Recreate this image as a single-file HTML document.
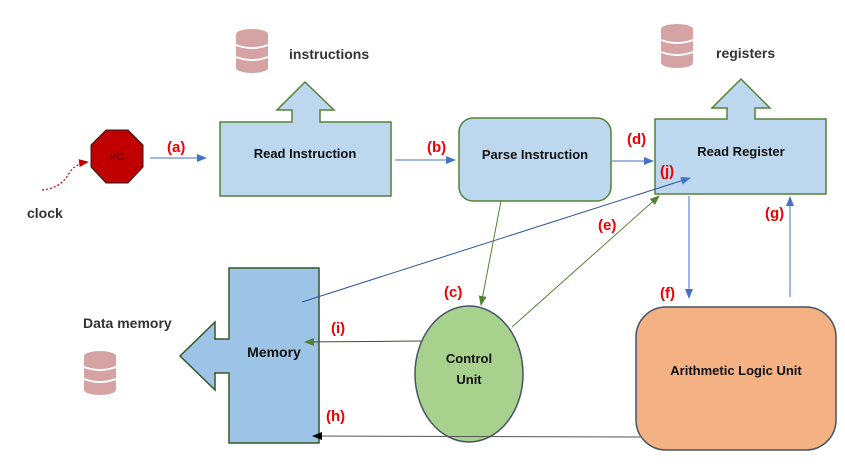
<!DOCTYPE html>
<html><head><meta charset="utf-8"><style>
html,body{margin:0;padding:0;background:#fff;}
svg{display:block;font-family:"Liberation Sans",sans-serif;}
.l{fill:#e00;font-weight:bold;font-size:15px;}
.t{font-weight:bold;font-size:13px;fill:#111;}
</style></head><body>
<svg width="845" height="470" viewBox="0 0 845 470">
<defs>
<marker id="ab" markerWidth="10" markerHeight="8" refX="9" refY="4" orient="auto" markerUnits="userSpaceOnUse"><path d="M0,0 L10,4 L0,8z" fill="#4472c4"/></marker>
<marker id="ag" markerWidth="10" markerHeight="8" refX="9" refY="4" orient="auto" markerUnits="userSpaceOnUse"><path d="M0,0 L10,4 L0,8z" fill="#548235"/></marker>
<marker id="ak" markerWidth="10" markerHeight="8" refX="9" refY="4" orient="auto" markerUnits="userSpaceOnUse"><path d="M0,0 L10,4 L0,8z" fill="#000"/></marker>
<marker id="ar" markerWidth="10" markerHeight="8" refX="9" refY="4" orient="auto" markerUnits="userSpaceOnUse"><path d="M0,0 L10,4 L0,8z" fill="#c00000"/></marker>
<g id="db"><ellipse cx="0" cy="5" rx="16" ry="5" fill="#d5a3a3"/><rect x="-16" y="5" width="32" height="34" fill="#d5a3a3"/><ellipse cx="0" cy="39" rx="16" ry="5" fill="#d5a3a3"/><path d="M-16,16 Q0,22 16,16 M-16,28 Q0,34 16,28" stroke="#fff" stroke-width="2" fill="none"/></g>
</defs>
<!-- db icons -->
<use href="#db" x="252" y="29"/>
<use href="#db" x="677" y="24"/>
<use href="#db" x="100" y="351"/>
<text x="289" y="59" class="t" style="font-size:14px;fill:#333">instructions</text>
<text x="716" y="58" class="t" style="font-size:14px;fill:#333">registers</text>
<text x="83" y="328" class="t" style="font-size:14px;fill:#333">Data memory</text>
<!-- clock -->
<path d="M42,190 C60,188 65,180 70,172 C74,166 80,163 88,162" stroke="#c00000" stroke-width="1.2" stroke-dasharray="2,2" fill="none" marker-end="url(#ar)"/>
<text x="27" y="218" class="t" style="font-size:14px;fill:#333">clock</text>
<!-- PC -->
<polygon points="106,130 128,130 143,145 143,167 128,183 106,183 91,167 91,145" fill="#c00000" stroke="#222" stroke-width="1"/>
<text x="117" y="160" text-anchor="middle" font-size="10" fill="#3a0000">PC</text>
<!-- Read Instruction -->
<path d="M220,122 L292,122 L292,110 L277,110 L305,82 L334,110 L320,110 L320,122 L391,122 L391,196 L220,196z" fill="#bdd7ee" stroke="#548235" stroke-width="1.5"/>
<text x="305" y="158" text-anchor="middle" class="t">Read Instruction</text>
<!-- Parse -->
<rect x="459" y="118" width="152" height="83" rx="14" fill="#bdd7ee" stroke="#548235" stroke-width="1.5"/>
<text x="535" y="159" text-anchor="middle" class="t">Parse Instruction</text>
<!-- Read Register -->
<path d="M655,119 L727,119 L727,108 L712,108 L741,79 L770,108 L755,108 L755,119 L826,119 L826,194 L655,194z" fill="#bdd7ee" stroke="#548235" stroke-width="1.5"/>
<text x="741" y="156" text-anchor="middle" class="t">Read Register</text>
<!-- Memory -->
<path d="M229,268 L319,268 L319,443 L229,443 L229,373 L215,373 L215,390 L180,356 L215,322 L215,339 L229,339z" fill="#9dc3e6" stroke="#385723" stroke-width="1.5"/>
<text x="274" y="357" text-anchor="middle" class="t" style="font-size:14px">Memory</text>
<!-- Control Unit -->
<ellipse cx="469" cy="374" rx="54" ry="68" fill="#a9d18e" stroke="#44546a" stroke-width="1.5"/>
<text x="469" y="363" text-anchor="middle" class="t">Control</text>
<text x="469" y="384" text-anchor="middle" class="t">Unit</text>
<!-- ALU -->
<rect x="636" y="307" width="200" height="143" rx="30" fill="#f4b183" stroke="#44546a" stroke-width="1.5"/>
<text x="736" y="375" text-anchor="middle" class="t">Arithmetic Logic Unit</text>
<!-- arrows -->
<line x1="150" y1="158" x2="206" y2="158" stroke="#4472c4" marker-end="url(#ab)"/>
<line x1="395" y1="160" x2="455" y2="160" stroke="#4472c4" marker-end="url(#ab)"/>
<line x1="612" y1="161" x2="653" y2="161" stroke="#4472c4" marker-end="url(#ab)"/>
<line x1="302" y1="302" x2="690" y2="178" stroke="#2f5597" marker-end="url(#ab)"/>
<line x1="512" y1="327" x2="659" y2="196" stroke="#548235" marker-end="url(#ag)"/>
<line x1="501" y1="201" x2="481" y2="305" stroke="#548235" marker-end="url(#ag)"/>
<line x1="421" y1="341" x2="305" y2="342" stroke="#385723" marker-end="url(#ag)"/>
<line x1="640" y1="437" x2="313" y2="436" stroke="#555" marker-end="url(#ak)"/>
<line x1="689" y1="196" x2="689" y2="298" stroke="#4472c4" marker-end="url(#ab)"/>
<line x1="790" y1="297" x2="790" y2="197" stroke="#4472c4" marker-end="url(#ab)"/>
<!-- labels -->
<text x="167" y="152" class="l">(a)</text>
<text x="427" y="152" class="l">(b)</text>
<text x="444" y="297" class="l">(c)</text>
<text x="627" y="144" class="l">(d)</text>
<text x="598" y="230" class="l">(e)</text>
<text x="660" y="298" class="l">(f)</text>
<text x="765" y="218" class="l">(g)</text>
<text x="326" y="421" class="l">(h)</text>
<text x="331" y="333" class="l">(i)</text>
<text x="660" y="176" class="l">(j)</text>
</svg>
</body></html>
